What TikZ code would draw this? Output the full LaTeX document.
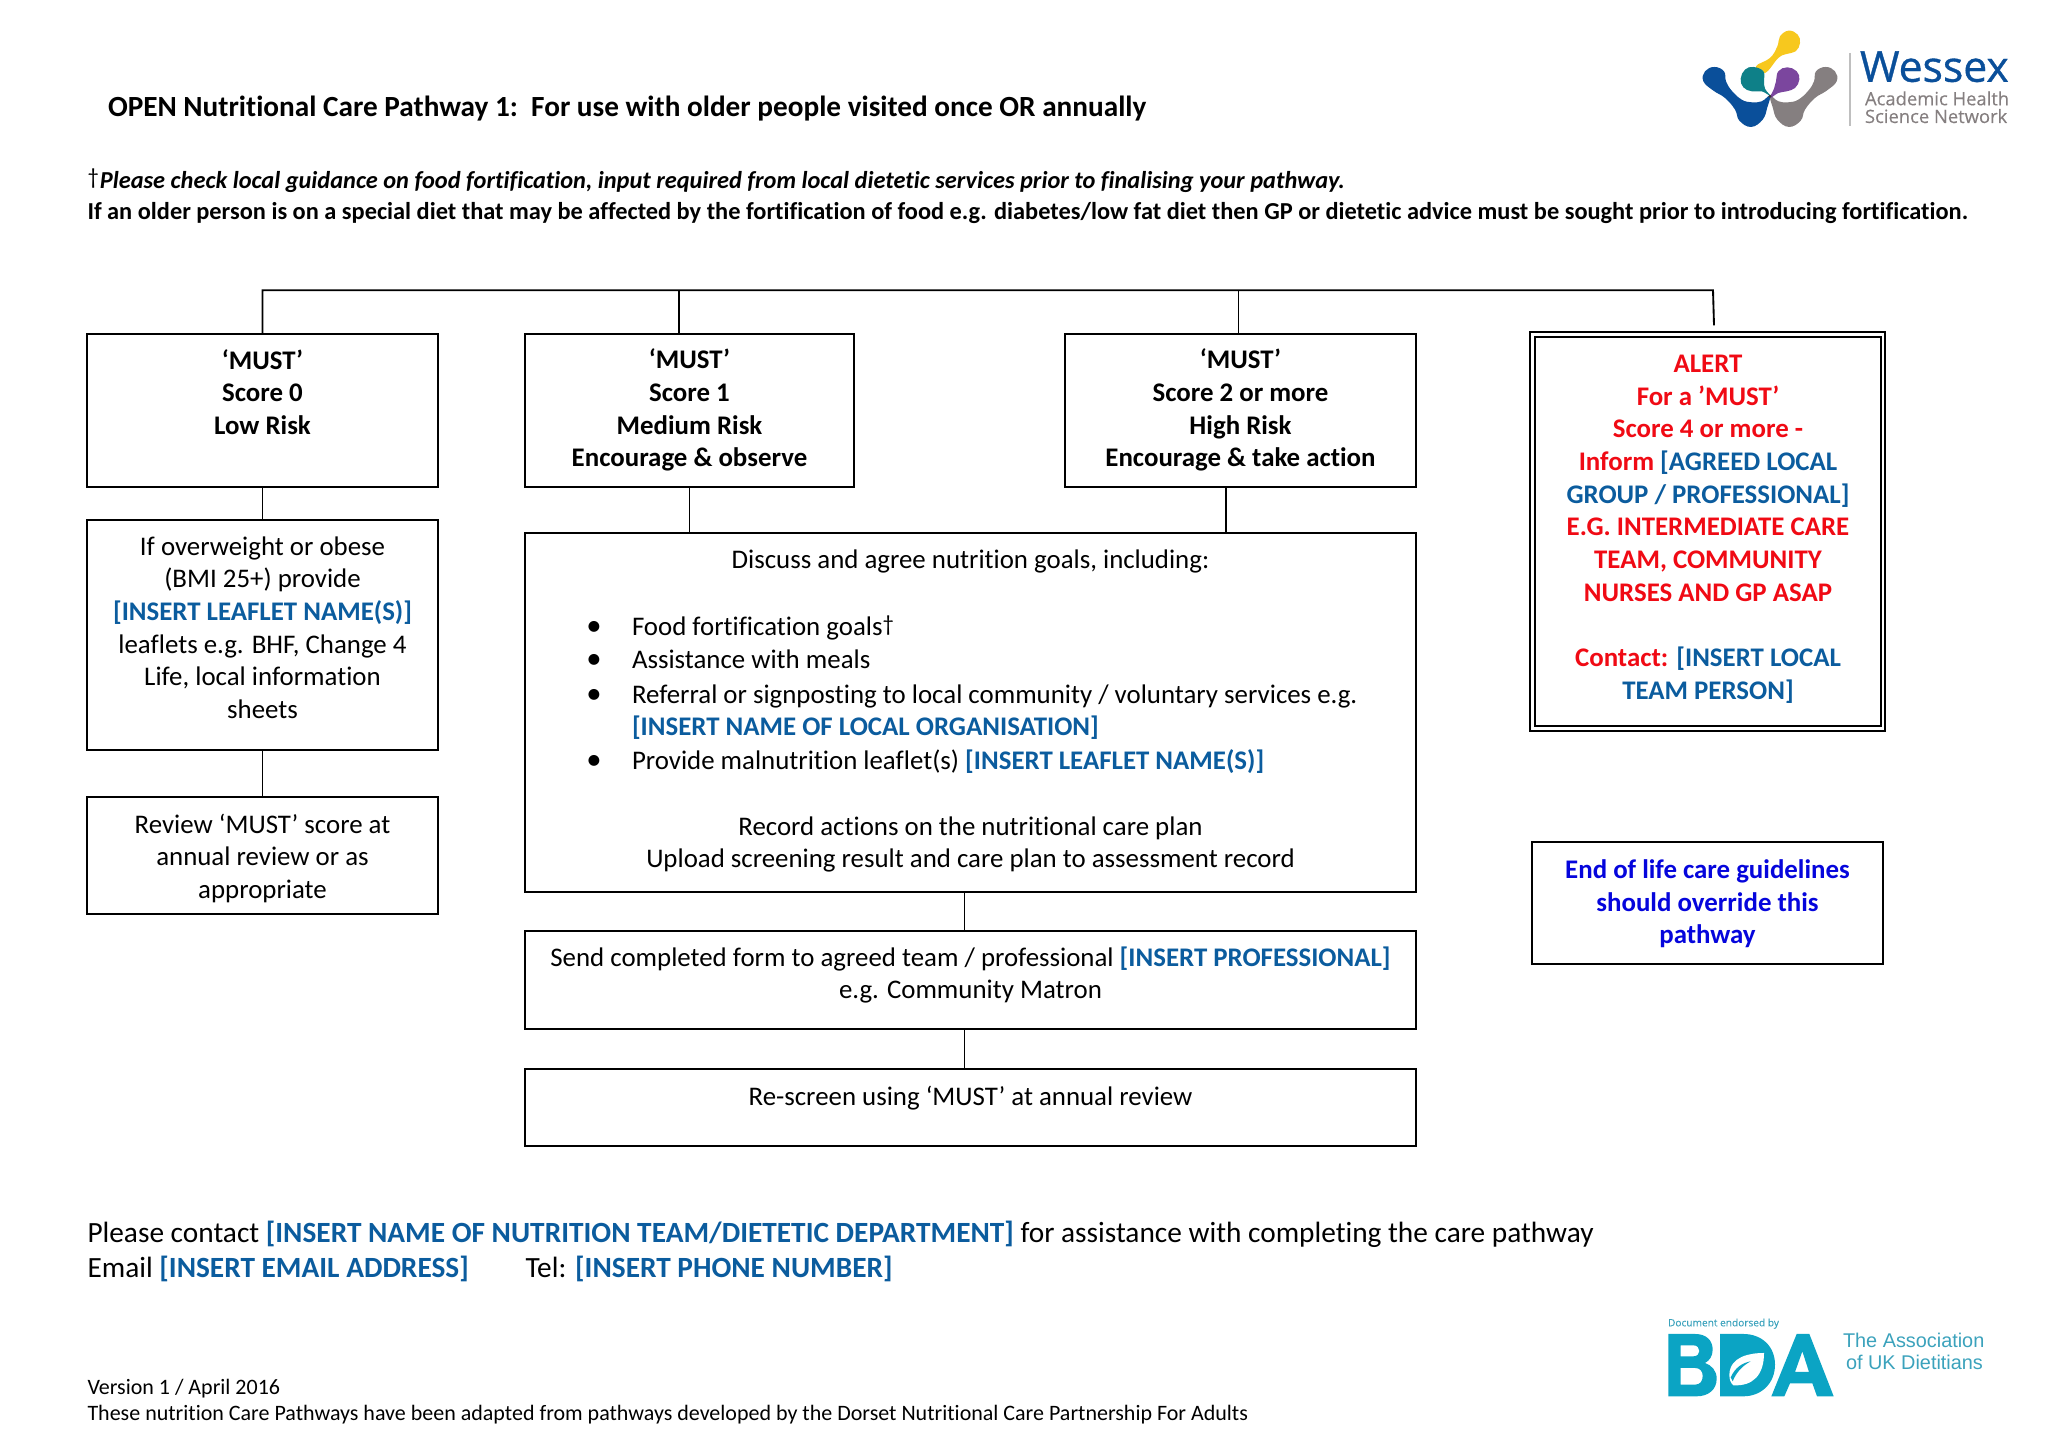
\documentclass[tikz,border=0pt]{standalone}
\usepackage{fontspec}
\setmainfont{Carlito}[Ligatures={NoCommon}]
\newfontfamily\logofont{Open Sans}[FakeBold=0.25]
\newfontfamily\logofontb{Open Sans}[FakeBold=0.8]
\newfontfamily\bdafont{Liberation Sans}
\usetikzlibrary{calc}
\definecolor{insblue}{HTML}{0B5C9E}
\definecolor{alertred}{HTML}{F00A14}
\definecolor{eolblue}{HTML}{0505DC}
\definecolor{wblue}{HTML}{0A4F9A}
\definecolor{wteal}{HTML}{0E8088}
\definecolor{wpurple}{HTML}{7B469E}
\definecolor{wgrey}{HTML}{857F80}
\definecolor{wyellow}{HTML}{F7C81E}
\definecolor{bdacol}{HTML}{0BA4C4}
\definecolor{bdatext}{HTML}{3BA2BC}
\newcommand{\bl}[1]{\textcolor{insblue}{\textbf{#1}}}
\newcommand{\bodysize}{\fontsize{20.15}{24.5}\selectfont}
\newcommand{\dgr}{\raisebox{3.2pt}{\fontsize{17}{17}\selectfont †}}
\newcommand{\bx}[7]{%
  \pgfmathsetmacro{\bw}{(#4-#2)*0.75}%
  \pgfmathsetmacro{\bh}{(#5-#3)*0.75}%
  \pgfmathsetmacro{\bX}{#6*0.75}%
  \node[boxst,minimum width=\bw pt,minimum height=\bh pt] (#1) at ({(#2+#4)/2},{(#3+#5)/2})
    {\parbox[c][\bh pt][t]{\bw pt}{\centering\rule{0pt}{\bX pt}#7}};}
\newcommand{\bul}[1]{\hspace*{80.25pt}\llap{\fontsize{23}{23}\selectfont •\hspace*{22.8pt}}#1}
\tikzset{
  boxst/.style={draw=black,line width=1.4pt,inner sep=0pt,outer sep=0pt,fill=white,font=\bodysize},
  conn/.style={draw=black,line width=1.4pt},
  plain/.style={anchor=base west,inner sep=0pt,outer sep=0pt},
}
\begin{document}
\begin{tikzpicture}[x=0.75pt,y=-0.75pt]
\useasboundingbox (0,-1.3) rectangle (2048,1446.7);
% title and notes
\node[plain,font=\fontsize{21.93}{26}\selectfont\bfseries] (title) at (108,115.5) {OPEN Nutritional Care Pathway 1:\ \ For use with older people visited once OR annually};
\node[plain,font=\fontsize{18.27}{22}\selectfont\bfseries] (noteA) at (87.5,187.3) {{\mdseries\dgr}\hspace{0.8pt}\textit{Please check local guidance on food fortification, input required from local dietetic services prior to finalising your pathway.}};
\node[plain,font=\fontsize{18.27}{22}\selectfont\bfseries] (noteB) at (87.5,218.3) {If an older person is on a special diet that may be affected by the fortification of food e.g. diabetes/low fat diet then GP or dietetic advice must be sought prior to introducing fortification.};
% boxes
\bx{b1}{87}{333}{438}{486}{34.7}{\bfseries ‘MUST’\\Score 0\\Low Risk}
\bx{b2}{525}{333}{854}{486}{34.6}{\bfseries ‘MUST’\\Score 1\\Medium Risk\\Encourage \& observe}
\bx{b3}{1065}{333}{1416}{486}{34.6}{\bfseries ‘MUST’\\Score 2 or more\\High Risk\\Encourage \& take action}
\bx{lf}{87}{519}{438}{749}{35}{If overweight or obese\\(BMI 25+) provide\\\bl{[INSERT LEAFLET NAME(S)]}\\leaflets e.g. BHF, Change 4\\Life, local information\\sheets}
\bx{rv}{87}{796}{438}{913}{36}{Review ‘MUST’ score at\\annual review or as\\appropriate}
\pgfmathsetmacro{\gw}{(1416-525)*0.75}
\bx{goals}{525}{532}{1416}{891}{35.5}{\raggedright\makebox[\gw pt][c]{Discuss and agree nutrition goals, including:}\\[25.7pt]
\bul{Food fortification goals\dgr}\\[0.4pt]
\bul{Assistance with meals}\\[1.1pt]
\bul{Referral or signposting to local community / voluntary services e.g.}\\[-0.5pt]
\hspace*{80.25pt}\bl{[INSERT NAME OF LOCAL ORGANISATION]}\\[1.2pt]
\bul{Provide malnutrition leaflet(s) \bl{[INSERT LEAFLET NAME(S)]}}\\[24.8pt]
\makebox[\gw pt][c]{Record actions on the nutritional care plan}\\
\makebox[\gw pt][c]{Upload screening result and care plan to assessment record}}
\bx{send}{525}{930}{1416}{1028}{35}{Send completed form to agreed team / professional \bl{[INSERT PROFESSIONAL]}\\e.g. Community Matron}
\bx{resc}{525}{1068}{1416}{1145}{36}{Re-screen using ‘MUST’ at annual review}
% alert
\node[draw=black,line width=1.5pt,inner sep=0pt,outer sep=0pt,minimum width=266.25pt,minimum height=299.25pt] (alo) at (1707.5,530.5) {};
\bx{al}{1535}{336}{1881}{725}{35.2}{\color{alertred}\bfseries ALERT\\For a ’MUST’\\Score 4 or more -\\Inform \textcolor{insblue}{[AGREED LOCAL}\\\textcolor{insblue}{GROUP / PROFESSIONAL]}\\E.G. INTERMEDIATE CARE\\TEAM, COMMUNITY\\NURSES AND GP ASAP\\[24.5pt]Contact: \textcolor{insblue}{[INSERT LOCAL}\\\textcolor{insblue}{TEAM PERSON]}}
\bx{eol}{1532}{841}{1883}{963}{36.2}{\color{eolblue}\bfseries End of life care guidelines\\should override this\\pathway}
% connectors
\coordinate (t2) at (679,289);
\coordinate (t3) at (1238.5,289);
\coordinate (t4) at (1713,289);
\coordinate (e4) at (1714,324);
\coordinate (d3) at (1226,486);
\coordinate (dg) at (964.5,891);
\coordinate (ds) at (964.5,1028);
\draw[conn] (b1.north) |- (t4) -- (e4);
\draw[conn] (t2) -- (t2 |- b2.north);
\draw[conn] (t3) -- (t3 |- b3.north);
\draw[conn] (b1.south) -- (lf.north);
\draw[conn] (lf.south) -- (rv.north);
\draw[conn] (b2.south) -- (b2.south |- goals.north);
\draw[conn] (d3) -- (d3 |- goals.north);
\draw[conn] (dg) -- (dg |- send.north);
\draw[conn] (ds) -- (ds |- resc.north);
% footer
\node[plain,font=\fontsize{22}{26}\selectfont] (contA) at (87.5,1241.5) {Please contact \bl{[INSERT NAME OF NUTRITION TEAM/DIETETIC DEPARTMENT]} for assistance with completing the care pathway};
\node[plain,font=\fontsize{22}{26}\selectfont] (contB) at (87.5,1276.5) {Email \bl{[INSERT EMAIL ADDRESS]}};
\node[plain,font=\fontsize{22}{26}\selectfont] (contC) at (525.5,1276.5) {Tel: \bl{[INSERT PHONE NUMBER]}};
\node[plain,font=\fontsize{16.5}{20}\selectfont] (ver) at (87.5,1393.3) {Version 1 / April 2016};
\node[plain,font=\fontsize{16.5}{20}\selectfont] (adp) at (87.5,1419.3) {These nutrition Care Pathways have been adapted from pathways developed by the Dorset Nutritional Care Partnership For Adults};
% Wessex logo
\begin{scope}[shift={(1650,0)},x=0.25pt,y=-0.25pt]
\fill[wyellow] plot[smooth cycle,tension=0.7] coordinates {(416,88)(443,100)(450,125)(437,150)(410,158)(385,170)(345,215)(318,195)(360,170)(382,135)(390,105)};
\fill[wblue] plot[smooth cycle,tension=0.7] coordinates {(193,197)(222,210)(228,240)(245,268)(275,295)(305,303)(335,300)(360,283)(352,318)(338,355)(303,377)(268,358)(255,325)(225,290)(190,268)(160,240)(165,210)};
\fill[wgrey] plot[smooth cycle,tension=0.7] coordinates {(527,197)(498,210)(492,240)(475,268)(445,295)(415,303)(385,300)(360,283)(368,318)(382,355)(417,377)(452,358)(465,325)(495,290)(530,268)(560,240)(555,210)};
\fill[wteal] plot[smooth cycle,tension=0.7] coordinates {(310,197)(340,210)(342,240)(345,262)(360,283)(335,270)(305,270)(280,258)(272,232)(285,205)};
\fill[wpurple] plot[smooth cycle,tension=0.7] coordinates {(412,198)(440,210)(448,235)(435,260)(410,270)(385,275)(360,290)(372,262)(378,240)(385,210)};
\fill[black!80] (360,285) circle (5);
\draw[black!25,line width=0.8pt] (600,155) -- (600,375);
\end{scope}
\node[plain,font=\logofontb\fontsize{32}{32}\selectfont,text=wblue] (wx) at (1860,80.5) {Wessex};
\node[plain,font=\logofont\fontsize{13.8}{15}\selectfont,text=wgrey] (wa) at (1865,104) {Academic Health};
\node[plain,font=\logofont\fontsize{13.8}{15}\selectfont,text=wgrey] (wb) at (1865,121.7) {Science Network};
% BDA logo
\begin{scope}[shift={(1640,1300)},x=0.25pt,y=-0.25pt]
\fill[bdacol,even odd rule]
  (85,98) -- (165,98) .. controls (200,98) and (218,118) .. (218,145) .. controls (218,165) and (208,178) .. (195,185) .. controls (215,192) and (230,208) .. (230,232) .. controls (230,265) and (205,285) .. (170,285) -- (85,285) -- cycle
  (122,132) -- (160,132) .. controls (172,132) and (178,140) .. (178,149) .. controls (178,158) and (172,165) .. (160,165) -- (122,165) -- cycle
  (122,200) -- (165,200) .. controls (180,200) and (188,210) .. (188,224) .. controls (188,240) and (180,250) .. (165,250) -- (122,250) -- cycle;
\fill[bdacol] (240,98) -- (310,98) .. controls (365,98) and (405,135) .. (405,190) .. controls (405,245) and (365,285) .. (310,285) -- (240,285) -- cycle;
\fill[white] (372,155) .. controls (330,155) and (270,165) .. (268,220) .. controls (268,235) and (272,245) .. (280,252) .. controls (340,255) and (372,220) .. (372,155) -- cycle;
\fill[bdacol] (272,228) .. controls (285,200) and (305,185) .. (332,180) .. controls (310,192) and (290,210) .. (278,240) -- cycle;
\fill[white] (405,290) -- (392,290) -- (470,98) -- (440,98) -- cycle;
\fill[bdacol,even odd rule] (470,98) -- (508,98) -- (581,285) -- (531,285) -- (517,246) -- (450,246) -- (433,285) -- (394,285) -- cycle
  (487,150) -- (465,212) -- (507,212) -- cycle;
\end{scope}
\node[plain,font=\logofont\fontsize{7.6}{9}\selectfont,text=bdatext] (be) at (1668,1325) {Document endorsed by};
\node[plain,font=\bdafont\fontsize{14.9}{16}\selectfont,text=bdatext] (bt) at (1843,1346.5) {The Association};
\node[plain,font=\bdafont\fontsize{14.9}{16}\selectfont,text=bdatext] (bu) at (1846,1368.5) {of UK Dietitians};
\end{tikzpicture}
\end{document}
